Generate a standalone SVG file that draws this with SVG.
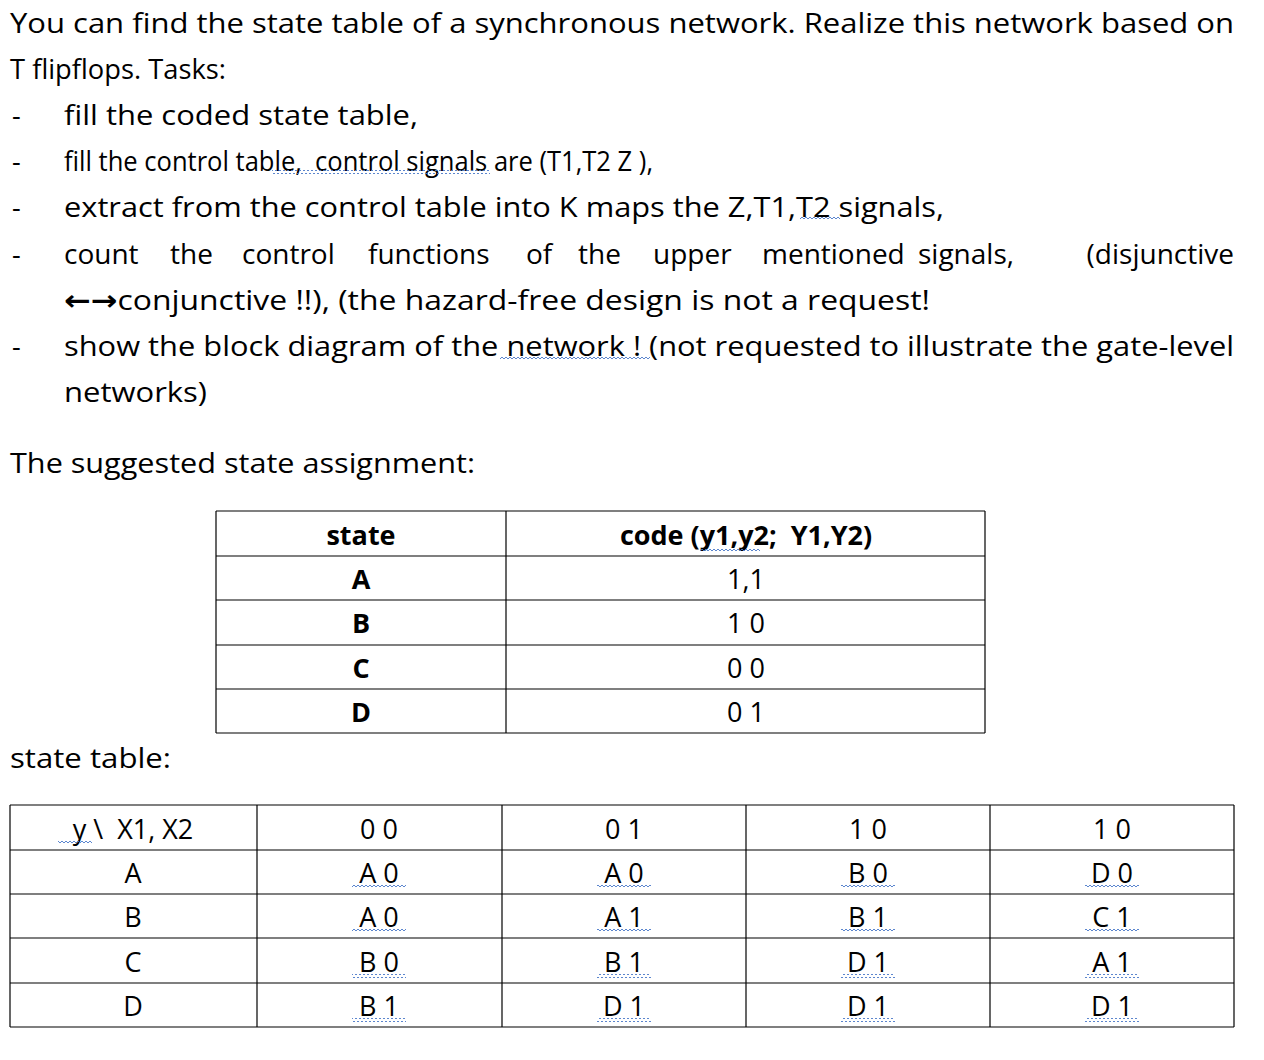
<svg xmlns="http://www.w3.org/2000/svg" width="1264" height="1060" viewBox="0 0 1264 1060">
<defs>
<pattern id="wavy" width="4" height="4" patternUnits="userSpaceOnUse"><polyline points="0,3 2,1 4,3" fill="none" stroke="#4a78c8" stroke-width="0.9"/></pattern>
</defs>
<style>
text{font-family:"Open Sans","Noto Sans",sans-serif;font-size:27px;fill:#000}
.t{font-size:28px}
.c{text-anchor:middle}
.b{font-weight:bold}
.g line{stroke:#000;stroke-width:1.2}
.w{fill:url(#wavy)}
.ar{font-family:"DejaVu Sans",sans-serif;font-weight:bold}
</style>
<rect width="1264" height="1060" fill="#fff"/>
<text x="10" y="33" textLength="1224" lengthAdjust="spacingAndGlyphs">You can find the state table of a synchronous network. Realize this network based on</text>
<text x="10" y="79" textLength="216" lengthAdjust="spacingAndGlyphs">T flipflops. Tasks:</text>
<g id="tasks">
<text x="12" y="125">-</text><text x="64" y="125" textLength="354" lengthAdjust="spacingAndGlyphs">fill the coded state table,</text>
<text x="12" y="171">-</text><text class="t" x="64" y="171" xml:space="preserve" textLength="589" lengthAdjust="spacingAndGlyphs">fill the control table,  control signals are (T1,T2 Z ),</text>
<text x="12" y="217">-</text><text x="64" y="217" textLength="880" lengthAdjust="spacingAndGlyphs">extract from the control table into K maps the Z,T1,T2 signals,</text>
<text x="12" y="264">-</text>
<text class="t" y="264"><tspan x="64">count</tspan><tspan x="170">the</tspan><tspan x="242">control</tspan><tspan x="368">functions</tspan><tspan x="526">of</tspan><tspan x="578">the</tspan><tspan x="653">upper</tspan><tspan x="762">mentioned</tspan><tspan x="918">signals,</tspan></text>
<text class="t" x="1234" y="264" text-anchor="end">(disjunctive</text>
<text class="t" x="64" y="310" textLength="866" lengthAdjust="spacingAndGlyphs"><tspan class="ar">←→</tspan>conjunctive !!), (the hazard-free design is not a request!</text>
<text x="12" y="356">-</text><text x="64" y="356" textLength="1170" lengthAdjust="spacingAndGlyphs">show the block diagram of the network ! (not requested to illustrate the gate-level</text>
<text x="64" y="402" textLength="143" lengthAdjust="spacingAndGlyphs">networks)</text>
</g>
<text x="10" y="473" textLength="465" lengthAdjust="spacingAndGlyphs">The suggested state assignment:</text>
<text x="10" y="768" textLength="161" lengthAdjust="spacingAndGlyphs">state table:</text>
<rect class="w" x="272" y="170" width="218" height="4"/>
<rect class="w" x="800" y="217" width="40" height="4"/>
<rect class="w" x="500" y="357" width="150" height="4"/>

<g id="assignment" class="g">
<line x1="216" y1="511" x2="985" y2="511"/><line x1="216" y1="556" x2="985" y2="556"/><line x1="216" y1="600" x2="985" y2="600"/><line x1="216" y1="645" x2="985" y2="645"/><line x1="216" y1="689" x2="985" y2="689"/><line x1="216" y1="733" x2="985" y2="733"/>
<line x1="216" y1="511" x2="216" y2="733"/><line x1="506" y1="511" x2="506" y2="733"/><line x1="985" y1="511" x2="985" y2="733"/>
<text class="c b" x="361" y="545">state</text><text class="c b" x="746" y="545" xml:space="preserve">code (y1,y2;  Y1,Y2)</text>
<text class="c b" x="361" y="589">A</text><text class="c" x="746" y="589">1,1</text>
<text class="c b" x="361" y="633">B</text><text class="c" x="746" y="633">1 0</text>
<text class="c b" x="361" y="678">C</text><text class="c" x="746" y="678">0 0</text>
<text class="c b" x="361" y="722">D</text><text class="c" x="746" y="722">0 1</text>
<rect class="w" x="700" y="547" width="60" height="4"/>
</g>

<g id="statetable" class="g">
<line x1="10" y1="805" x2="1234" y2="805"/><line x1="10" y1="850" x2="1234" y2="850"/><line x1="10" y1="894" x2="1234" y2="894"/><line x1="10" y1="938" x2="1234" y2="938"/><line x1="10" y1="983" x2="1234" y2="983"/><line x1="10" y1="1027" x2="1234" y2="1027"/>
<line x1="10" y1="805" x2="10" y2="1027"/><line x1="257" y1="805" x2="257" y2="1027"/><line x1="502" y1="805" x2="502" y2="1027"/><line x1="746" y1="805" x2="746" y2="1027"/><line x1="990" y1="805" x2="990" y2="1027"/><line x1="1234" y1="805" x2="1234" y2="1027"/>
<text class="c" x="133" y="839" xml:space="preserve">y \  X1, X2</text><text class="c" x="379" y="839">0 0</text><text class="c" x="624" y="839">0 1</text><text class="c" x="868" y="839">1 0</text><text class="c" x="1112" y="839">1 0</text>
<g xml:space="preserve">
<text class="c" x="133" y="883">A</text><text class="c" x="379" y="883">A  0</text><text class="c" x="624" y="883">A  0</text><text class="c" x="868" y="883">B  0</text><text class="c" x="1112" y="883">D  0</text>
<text class="c" x="133" y="927">B</text><text class="c" x="379" y="927">A  0</text><text class="c" x="624" y="927">A  1</text><text class="c" x="868" y="927">B  1</text><text class="c" x="1112" y="927">C  1</text>
<text class="c" x="133" y="972">C</text><text class="c" x="379" y="972">B  0</text><text class="c" x="624" y="972">B  1</text><text class="c" x="868" y="972">D  1</text><text class="c" x="1112" y="972">A  1</text>
<text class="c" x="133" y="1016">D</text><text class="c" x="379" y="1016">B  1</text><text class="c" x="624" y="1016">D  1</text><text class="c" x="868" y="1016">D  1</text><text class="c" x="1112" y="1016">D  1</text>
</g>
<rect class="w" x="58" y="841" width="34" height="4"/>
<rect class="w" x="352" y="885" width="54" height="4"/><rect class="w" x="597" y="885" width="54" height="4"/><rect class="w" x="841" y="885" width="54" height="4"/><rect class="w" x="1085" y="885" width="54" height="4"/>
<rect class="w" x="352" y="929" width="54" height="4"/><rect class="w" x="597" y="929" width="54" height="4"/><rect class="w" x="841" y="929" width="54" height="4"/><rect class="w" x="1085" y="929" width="54" height="4"/>
<rect class="w" x="352" y="974" width="54" height="4"/><rect class="w" x="597" y="974" width="54" height="4"/><rect class="w" x="841" y="974" width="54" height="4"/><rect class="w" x="1085" y="974" width="54" height="4"/>
<rect class="w" x="352" y="1018" width="54" height="4"/><rect class="w" x="597" y="1018" width="54" height="4"/><rect class="w" x="841" y="1018" width="54" height="4"/><rect class="w" x="1085" y="1018" width="54" height="4"/>
</g>
</svg>
